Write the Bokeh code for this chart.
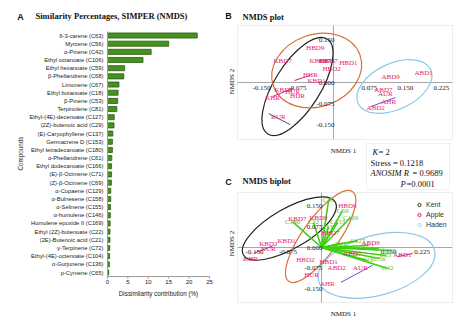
import math
from bokeh.plotting import figure
from bokeh.layouts import row, column
from bokeh.models import Range1d, Label, BoxAnnotation, Legend, LegendItem
from bokeh.core.properties import value
from bokeh.embed import file_html
from bokeh.resources import INLINE

# ---------------- Panel A data ----------------
compounds = ["δ-3-carene (C63)", "Myrcene (C56)", "α-Pinene (C42)", "Ethyl octanoate (C106)",
             "Ethyl hexanoate (C59)", "β-Phellandrene (C68)", "Limonene (C67)", "Ethyl butanoate (C18)",
             "β-Pinene (C53)", "Terpinolene (C81)", "Ethyl-(4E)-decenoate (C127)", "(2Z)-butenoic acid (C29)",
             "(E)-Caryophyllene (C137)", "Germacrene D (C153)", "Ethyl tetradecanoate (C180)",
             "α-Phellandrene (C61)", "Ethyl dodecanoate (C166)", "(E)-β-Ocimene (C71)", "(Z)-β-Ocimene (C69)",
             "α-Copaene (C129)", "α-Bulnesene (C158)", "α-Selinene (C155)", "α-humulene (C146)",
             "Humulene epoxide II (C169)", "Ethyl (2Z)-butenoate (C22)", "(2E)-Butenoic acid (C21)",
             "γ-Terpinene (C72)", "Ethyl-(4E)-octenoate (C104)", "α-Gurjunene (C136)", "p-Cymene (C65)"]
contribution = [22.0, 15.0, 10.7, 8.7, 4.2, 4.0, 2.8, 2.6, 2.5, 2.3, 1.65, 1.6, 1.3, 1.2, 1.2,
                1.05, 1.0, 1.0, 0.95, 0.8, 0.8, 0.75, 0.7, 0.65, 0.6, 0.6, 0.55, 0.5, 0.45, 0.3]
a_ticks = [0, 5, 10, 15, 20, 25]

# ---------------- Panel B data (NMDS plot) ----------------
b_samples = ["KBD7", "KBD9", "KBD1", "KBD2", "KHR", "KUR", "HBD9", "HBD7", "HBD2", "HBD1",
             "HHR", "HUR", "HDR", "ABD9", "ABD1", "ABD7", "AUR", "AHR", "ABD2"]
b_x = [-0.106, -0.031, -0.035, -0.104, -0.127, -0.115, -0.038, -0.010, -0.004, 0.031,
       -0.048, -0.085, -0.075, 0.119, 0.188, 0.104, 0.108, 0.115, 0.088]
b_y = [0.074, 0.074, 0.007, -0.028, -0.053, -0.120, 0.120, 0.074, 0.049, 0.067,
       0.028, -0.035, -0.049, 0.021, 0.035, -0.025, -0.042, -0.070, -0.088]
b_seg_x0 = [-0.081, 0.077, -0.135, -0.127]
b_seg_y0 = [0.007, -0.085, -0.109, -0.049]
b_seg_x1 = [-0.048, 0.129, -0.090, -0.085]
b_seg_y1 = [0.025, -0.053, -0.148, -0.021]
b_ell_x = [-0.075, -0.035, 0.127]
b_ell_y = [-0.014, 0.042, -0.014]
b_box_x = (-0.2, 0.248)
b_box_y = (-0.2, 0.2)
b_xticks = [-0.150, -0.075, 0.075, 0.150, 0.225]
b_yticks = [0.150, 0.075, 0.000, -0.075, -0.150]

# ---------------- Panel C data (NMDS biplot) ----------------
c_samples = ["KBD7", "KBD9", "HBD9", "HBD7", "KBD2", "KBD1", "KUR", "KHR", "HBD2", "HBD1",
             "HUR", "ABD2", "AHR", "AUR", "ABD9", "ABD1", "ABD7"]
c_x = [-0.054, -0.007, 0.058, 0.020, -0.119, -0.078, -0.119, -0.159, -0.036, 0.016,
       -0.022, 0.034, 0.013, 0.087, 0.110, 0.181, 0.069]
c_y = [0.105, 0.109, 0.152, 0.054, 0.014, 0.025, -0.007, -0.040, -0.047, -0.054,
       -0.101, -0.076, -0.134, -0.076, 0.018, -0.029, -0.022]
vec_labels = ["C81", "C59", "C169", "C153", "C137", "C180", "C22", "C127", "C71", "C72",
              "C29", "C18", "C56", "C42", "C63", "C61"]
vec_x = [0.016, 0.047, 0.065, 0.036, 0.016, -0.065, -0.018, 0.081, 0.105, 0.128,
         0.154, 0.103, 0.130, 0.148, 0.143, 0.043]
vec_y = [0.174, 0.134, 0.109, 0.091, 0.076, 0.094, 0.091, 0.025, 0.007, -0.004,
         -0.011, -0.047, -0.040, -0.076, -0.029, 0.014]
c_seg_x0 = [0.043, 0.170, -0.150]
c_seg_y0 = [-0.127, -0.033, -0.020]
c_seg_x1 = [0.114, 0.204, -0.110]
c_seg_y1 = [-0.065, -0.022, 0.005]
c_ell_x = [-0.072, -0.002, 0.123]
c_ell_y = [0.069, 0.040, -0.065]
c_box_x = (-0.188, 0.293)
c_box_y = (-0.2, 0.2)
c_xticks = [-0.150, -0.075, 0.150, 0.225]
c_yticks = [0.150, 0.075, 0.000, -0.075, -0.150]
groups = ["Kent", "Apple", "Haden"]

SERIF = "Liberation Serif"
SANS = "Liberation Sans"
PINK = "#e3206a"
ELL_COLORS = ["#222222", "#d9703a", "#8ec6ea"]
AXIS_GRAY = "#a8a8a8"


def lab(p, x, y, text, size, font=SERIF, style="normal", color="#111111",
        align="left", baseline="middle", angle=0.0):
    p.add_layout(Label(x=x, y=y, x_units="screen", y_units="screen", text=text,
                       text_font=font, text_font_size=size, text_font_style=style,
                       text_color=color, text_align=align, text_baseline=baseline,
                       angle=angle))


def bare_fig(w, h, xr, yr):
    p = figure(width=w, height=h, x_range=xr, y_range=yr, x_axis_location=None,
               y_axis_location=None, output_backend="svg", toolbar_location=None,
               min_border=0, min_border_left=0, min_border_right=0,
               min_border_top=0, min_border_bottom=0)
    p.grid.visible = False
    p.outline_line_color = None
    return p


def full_frame_fig(w, h, box_x, box_y, left, right, top, bottom):
    """Frame fills the canvas; the plot box sits inside it at the given pixel margins."""
    sx = (w - left - right) / (box_x[1] - box_x[0])
    sy = (h - top - bottom) / (box_y[1] - box_y[0])
    xr = Range1d(box_x[0] - left / sx, box_x[1] + right / sx)
    yr = Range1d(box_y[0] - bottom / sy, box_y[1] + top / sy)
    p = bare_fig(w, h, xr, yr)
    p.add_layout(BoxAnnotation(left=box_x[0], right=box_x[1], bottom=box_y[0], top=box_y[1],
                               fill_alpha=0, line_color="#c8c8c8", line_width=1))
    p.segment(x0=[box_x[0], 0], y0=[0, box_y[0]], x1=[box_x[1], 0], y1=[0, box_y[1]],
              line_color=AXIS_GRAY, line_width=1)
    return p


def ticks(p, xt, yt, xoff):
    p.text(x=xt, y=[0] * len(xt), text=[f"{v:.3f}" for v in xt],
           text_font=value(SERIF), text_font_size="7px", text_color="#222222",
           text_align="center", text_baseline="top", y_offset=xoff)
    p.text(x=[0] * len(yt), y=yt, text=[f"{v:.3f}" for v in yt],
           text_font=value(SERIF), text_font_size="7px", text_color="#222222",
           text_align="right", text_baseline="middle", x_offset=1)


# ---------------- Panel A (bars) ----------------
W_A, H_A = 225, 321
PX_LEFT, PX_RIGHT = 107, 209           # pixel span of 0..25
ROW_TOP, ROW_BOTTOM = 35, 272          # pixel centres of first / last row
n = len(compounds)
sx = (PX_RIGHT - PX_LEFT) / (a_ticks[-1] - a_ticks[0])
sy = (ROW_BOTTOM - ROW_TOP) / (n - 1)
xrA = Range1d(a_ticks[0] - PX_LEFT / sx, a_ticks[-1] + (W_A - PX_RIGHT) / sx)
yrA = Range1d((n - 1) + (H_A - ROW_BOTTOM) / sy, -ROW_TOP / sy)   # inverted: first row on top
pA = bare_fig(W_A, H_A, xrA, yrA)
rows = list(range(n))
pA.hbar(y=rows, left=0, right=contribution, height=0.62,
        fill_color="#45921f", line_color="#2b5a12", line_width=0.8)
base = n - 0.5
pA.segment(x0=[0, 0], y0=[-0.5, base], x1=[0, a_ticks[-1]], y1=[base, base],
           line_color="#9a9a9a", line_width=1)
pA.segment(x0=a_ticks, y0=[base] * len(a_ticks), x1=a_ticks, y1=[base + 0.25] * len(a_ticks),
           line_color="#9a9a9a", line_width=1)
pA.text(x=[0] * n, y=rows, text=compounds, x_offset=-4, text_font=value(SANS),
        text_font_size="5.8px", text_color="#222222", text_align="right", text_baseline="middle")
pA.text(x=a_ticks, y=[base] * len(a_ticks), text=[str(t) for t in a_ticks], y_offset=3,
        text_font=value(SANS), text_font_size="6px", text_color="#222222",
        text_align="center", text_baseline="top")
lab(pA, 158, 28, "Dissimilarity contribution (%)", "6.3px", font=SANS, color="#222222",
    align="center")
lab(pA, 20, 168, "Compounds", "6.3px", font=SANS, color="#222222", align="center",
    angle=math.pi / 2)
lab(pA, 20, 305, "A", "9px", font=SANS, style="bold", align="center")
lab(pA, 35, 306, "Similarity Percentages, SIMPER (NMDS)", "8.5px", style="bold")

# ---------------- Panel B ----------------
pB = full_frame_fig(249, 141, b_box_x, b_box_y, left=12, right=22, top=25, bottom=2)
pB.ellipse(x=b_ell_x, y=b_ell_y, width=[112, 92, 80], height=[46, 72, 46],
           angle=[math.radians(a) for a in (58, 20, 25)],
           width_units="screen", height_units="screen",
           fill_color=None, line_color=ELL_COLORS, line_width=1.2)
pB.segment(x0=b_seg_x0, y0=b_seg_y0, x1=b_seg_x1, y1=b_seg_y1,
           line_color=["#d0208a", "#8040d0", "#555555", "#d0208a"], line_width=1)
ticks(pB, b_xticks, b_yticks, 3)
pB.text(x=b_x, y=b_y, text=b_samples, text_font=value(SERIF), text_font_size="7px",
        text_color=PINK, text_align="center", text_baseline="middle")
lab(pB, 3, 126, "B", "9px", font=SANS, style="bold", align="center")
lab(pB, 17, 125, "NMDS plot", "8.5px", style="bold")
lab(pB, 6, 60, "NMDS 2", "7px", align="center", angle=math.pi / 2)

# ---------------- Panel C ----------------
pC = full_frame_fig(249, 180, c_box_x, c_box_y, left=12, right=22, top=51, bottom=19)
pC.ellipse(x=c_ell_x, y=c_ell_y, width=[106, 110, 120], height=[40, 36, 60],
           angle=[math.radians(a) for a in (30, 54.5, 15)],
           width_units="screen", height_units="screen",
           fill_color=None, line_color=ELL_COLORS, line_width=1.2)
pC.segment(x0=[0] * len(vec_x), y0=[0] * len(vec_y), x1=vec_x, y1=vec_y,
           line_color="#3fcf12", line_width=1.6)
pC.segment(x0=c_seg_x0, y0=c_seg_y0, x1=c_seg_x1, y1=c_seg_y1,
           line_color=["#8040d0", "#d0208a", "#d0208a"], line_width=1)
ticks(pC, c_xticks, c_yticks, 2)
pC.text(x=vec_x, y=vec_y, text=vec_labels, text_font=value(SERIF), text_font_size="7px",
        text_color="#5cbf2a", text_align="center", text_baseline="middle")
pC.text(x=c_x, y=c_y, text=c_samples, text_font=value(SERIF), text_font_size="7px",
        text_color=PINK, text_align="center", text_baseline="middle")

nan = float("nan")
leg_renderers = []
for col in ["#333333", "#e3206a", "#a8d4f0"]:
    leg_renderers.append(pC.scatter(x=[nan], y=[nan], marker="circle", size=7, fill_color=None,
                                    line_color=col, line_width=1))
legend = Legend(items=[LegendItem(label=g, renderers=[r]) for g, r in zip(groups, leg_renderers)],
                location=(190, 92), label_text_font=SANS, label_text_font_size="7px",
                label_text_color="#333333", glyph_width=8, glyph_height=9, label_height=9,
                label_standoff=3, spacing=1, padding=2, margin=0,
                background_fill_alpha=0, border_line_color=None)
pC.add_layout(legend)

lab(pC, 3, 140, "C", "9px", font=SANS, style="bold", align="center")
lab(pC, 17, 141, "NMDS biplot", "8.5px", style="bold")
lab(pC, 6, 78, "NMDS 2", "7px", align="center", angle=math.pi / 2)
lab(pC, 118, 8, "NMDS 1", "7px", align="center")
lab(pC, 118, 171, "NMDS 1", "7px", align="center")

pC.add_layout(BoxAnnotation(left=141, right=224, top=178, bottom=132,
                            left_units="screen", right_units="screen",
                            top_units="screen", bottom_units="screen",
                            fill_alpha=0, line_color="#cccccc", line_width=1))
lab(pC, 147, 170, "K", "8.5px", style="italic")
lab(pC, 153, 170, "= 2", "8.5px")
lab(pC, 145, 159, "Stress = 0.1218", "8.5px")
lab(pC, 145, 149, "ANOSIM  R", "8.5px", style="italic")
lab(pC, 187, 149, "= 0.9689", "8.5px")
lab(pC, 175, 138, "P", "8.5px", style="italic")
lab(pC, 181, 138, "=0.0001", "8.5px")

layout = row(pA, column(pB, pC))
open("out.html", "w").write(file_html(layout, INLINE))
